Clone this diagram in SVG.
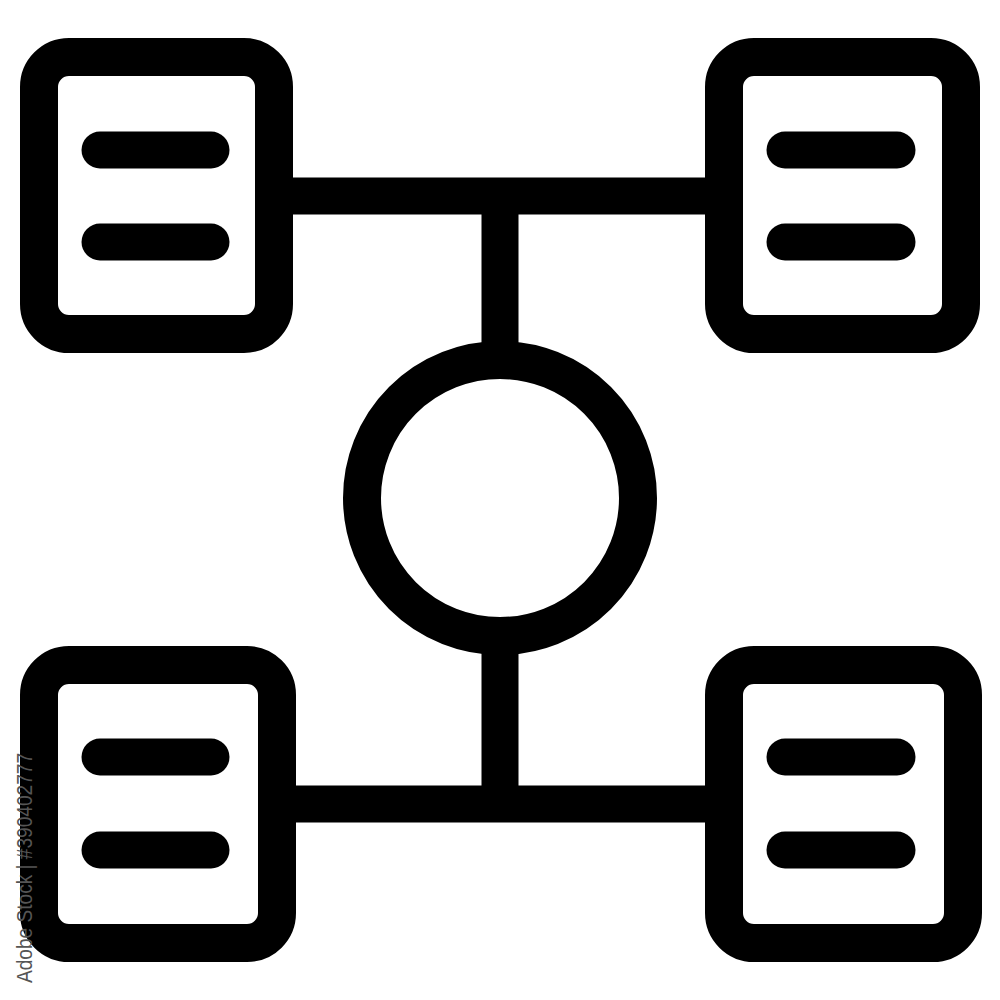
<svg xmlns="http://www.w3.org/2000/svg" width="1000" height="1000" viewBox="0 0 1000 1000">
<style>
.box{fill:none;stroke:#000;stroke-width:38}
.bar{stroke:#000;stroke-width:37;stroke-linecap:round}
.conn{stroke:#000;stroke-width:37;fill:none}
.wm{font-family:"Liberation Sans",Arial,sans-serif;font-size:22px;fill:#555}
</style>
<rect width="1000" height="1000" fill="#fff"/>
<g id="connectors">
<line class="conn" x1="280" y1="196" x2="720" y2="196"/>
<line class="conn" x1="500" y1="196" x2="500" y2="360"/>
<line class="conn" x1="280" y1="804" x2="720" y2="804"/>
<line class="conn" x1="500" y1="640" x2="500" y2="804"/>
</g>
<g id="hub">
<circle cx="500" cy="498" r="138" fill="#fff" stroke="#000" stroke-width="38"/>
</g>
<g id="node-top-left">
<rect class="box" x="39" y="57" width="235" height="277" rx="30"/>
<line class="bar" x1="100" y1="150" x2="211" y2="150"/>
<line class="bar" x1="100" y1="242" x2="211" y2="242"/>
</g>
<g id="node-top-right">
<rect class="box" x="724" y="57" width="237" height="277" rx="30"/>
<line class="bar" x1="785" y1="150" x2="897" y2="150"/>
<line class="bar" x1="785" y1="242" x2="897" y2="242"/>
</g>
<g id="node-bottom-left">
<rect class="box" x="39" y="665" width="238" height="278" rx="30"/>
<line class="bar" x1="100" y1="757" x2="211" y2="757"/>
<line class="bar" x1="100" y1="850" x2="211" y2="850"/>
</g>
<g id="node-bottom-right">
<rect class="box" x="724" y="665" width="239" height="278" rx="30"/>
<line class="bar" x1="785" y1="757" x2="897" y2="757"/>
<line class="bar" x1="785" y1="850" x2="897" y2="850"/>
</g>
<text class="wm" transform="translate(32,983) rotate(-90)" textLength="230" lengthAdjust="spacingAndGlyphs">Adobe Stock | #390402777</text>
</svg>
